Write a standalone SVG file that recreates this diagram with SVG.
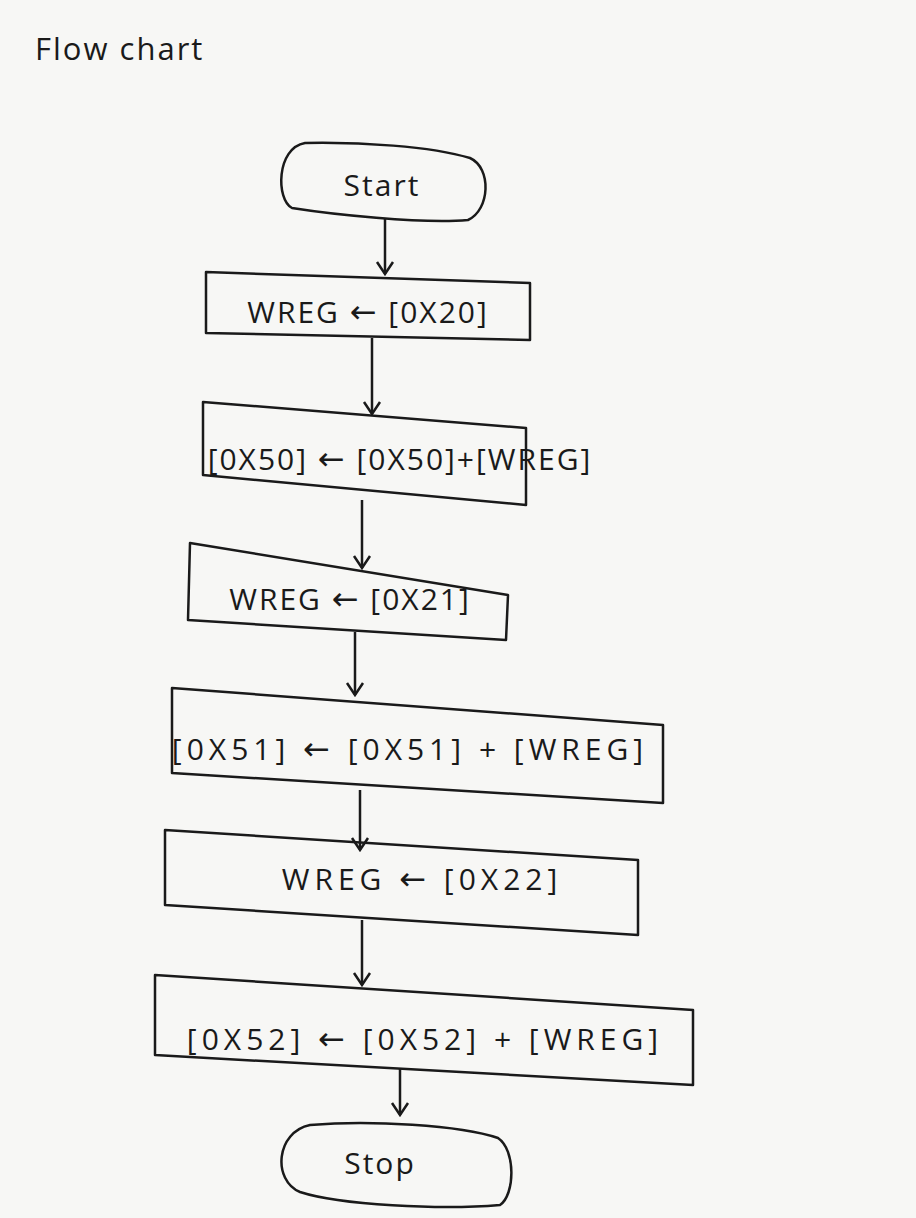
<svg xmlns="http://www.w3.org/2000/svg" width="916" height="1218" viewBox="0 0 916 1218">
<defs>
<style>
.bg{fill:#f7f7f5}
.box{fill:none;stroke:#1a1a1a;stroke-width:2.5;stroke-linejoin:round}
.t{font-family:"Open Sans","Liberation Sans",sans-serif;font-size:30px;fill:#1a1a1a;text-anchor:middle;letter-spacing:2px}
.w{letter-spacing:5px}
.ar{font-family:"DejaVu Sans",sans-serif;font-size:32px}
.c{stroke:#1a1a1a;stroke-width:2.5;fill:none}
</style>
<marker id="ah" viewBox="0 0 20 20" refX="18" refY="10" markerWidth="20" markerHeight="20" markerUnits="userSpaceOnUse" orient="auto">
<path d="M6 2 L18 10 L6 18" fill="none" stroke="#1a1a1a" stroke-width="2.5"/>
</marker>
</defs>
<rect class="bg" x="0" y="0" width="916" height="1218"/>
<text x="35" y="60" style="font-family:'Open Sans','Liberation Sans',sans-serif;font-size:31px;fill:#1a1a1a;letter-spacing:2px">Flow chart</text>

<g id="start">
<path class="box" d="M305 143 C360 142 430 146 470 158 C492 168 490 210 468 220 C420 224 330 214 292 208 C276 200 276 148 305 143 Z"/>
<text class="t" x="382" y="196">Start</text>
</g>
<g id="n1">
<polygon class="box" points="206,272 530,283 530,340 206,333"/>
<text class="t" x="368" y="323">WREG <tspan class="ar">←</tspan> [0X20]</text>
</g>
<g id="n2">
<polygon class="box" points="203,402 526,428 526,505 203,475"/>
<text class="t" x="400" y="470">[0X50] <tspan class="ar">←</tspan> [0X50]+[WREG]</text>
</g>
<g id="n3">
<polygon class="box" points="190,543 508,595 506,640 188,620"/>
<text class="t" x="350" y="610">WREG <tspan class="ar">←</tspan> [0X21]</text>
</g>
<g id="n4">
<polygon class="box" points="172,688 663,725 663,803 172,773"/>
<text class="t w" x="410" y="760">[0X51] <tspan class="ar">←</tspan> [0X51] + [WREG]</text>
</g>
<g id="n5">
<polygon class="box" points="165,830 638,860 638,935 165,905"/>
<text class="t w" x="422" y="890">WREG <tspan class="ar">←</tspan> [0X22]</text>
</g>
<g id="n6">
<polygon class="box" points="155,975 693,1010 693,1085 155,1055"/>
<text class="t w" x="425" y="1050">[0X52] <tspan class="ar">←</tspan> [0X52] + [WREG]</text>
</g>
<g id="stop">
<path class="box" d="M310 1125 C370 1120 460 1125 498 1138 C516 1150 515 1195 500 1205 C440 1210 340 1205 300 1192 C272 1180 276 1132 310 1125 Z"/>
<text class="t" x="380" y="1174">Stop</text>
</g>

<g id="connectors">
<line class="c" x1="385" y1="218" x2="385" y2="274" marker-end="url(#ah)"/>
<line class="c" x1="372" y1="338" x2="372" y2="414" marker-end="url(#ah)"/>
<line class="c" x1="362" y1="500" x2="362" y2="568" marker-end="url(#ah)"/>
<line class="c" x1="355" y1="632" x2="355" y2="695" marker-end="url(#ah)"/>
<line class="c" x1="360" y1="790" x2="360" y2="850" marker-end="url(#ah)"/>
<line class="c" x1="362" y1="920" x2="362" y2="985" marker-end="url(#ah)"/>
<line class="c" x1="400" y1="1068" x2="400" y2="1115" marker-end="url(#ah)"/>
</g>
</svg>
